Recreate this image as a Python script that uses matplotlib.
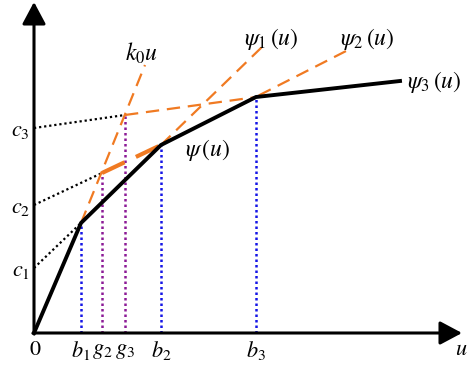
import matplotlib
matplotlib.use("Agg")
import matplotlib.pyplot as plt

plt.rcParams["mathtext.fontset"] = "stix"
plt.rcParams["font.family"] = "STIXGeneral"

# ── data (u along the horizontal axis, psi up the vertical axis) ──────
curve_u = [0, 47, 127, 222, 366]
curve_psi = [0, 110, 188, 236, 252]

b_vals = [47, 127, 222]          # b1, b2, b3
b_psi = [110, 188, 236]
g_vals = [68, 91]                # g2, g3
g_psi = [160, 218]
c_vals = [65, 128, 205]          # c1, c2, c3

k0_u, k0_psi = [47, 111], [110, 268]
psi1_u, psi1_psi = [127, 228], [188, 286]
psi2_thick_u, psi2_thick_psi = [68, 127], [160, 188]
psi2_u, psi2_psi = [206, 318], [228, 285]
psi3_u, psi3_psi = [91, 230], [218, 237]

b_labels = [r"$b_1$", r"$b_2$", r"$b_3$"]
g_labels = [r"$g_2$", r"$g_3$"]
c_labels = [r"$c_1$", r"$c_2$", r"$c_3$"]

ORANGE = "#f07a22"
BLUE = "#1515e6"
PURPLE = "#8c1a96"

fig = plt.figure(figsize=(4.74, 3.91), dpi=100)
ax = fig.add_axes([0, 0, 1, 1])
ax.set_xlim(-34, 440)
ax.set_ylim(-58, 333)
ax.axis("off")

# vertical guides
for b, p in zip(b_vals, b_psi):
    ax.plot([b, b], [0, p], color=BLUE, lw=1.8, ls=(0, (1, 1.2)), zorder=2)
for g, p in zip(g_vals, g_psi):
    ax.plot([g, g], [0, p], color=PURPLE, lw=1.8, ls=(0, (1, 1.2)), zorder=2)

# intercept lines from c_i
ends = [(b_vals[0], b_psi[0]), (g_vals[0], g_psi[0]), (g_vals[1], g_psi[1])]
for c, (u, p) in zip(c_vals, ends):
    ax.plot([0, u], [c, p], color="black", lw=1.6, ls=(0, (1, 1.3)), zorder=2)

# tangent lines
dash = (0, (6, 3.5))
ax.plot(k0_u, k0_psi, color=ORANGE, lw=1.6, ls=dash, zorder=3)
ax.plot(psi1_u, psi1_psi, color=ORANGE, lw=1.6, ls=dash, zorder=3)
ax.plot(psi2_u, psi2_psi, color=ORANGE, lw=1.6, ls=dash, zorder=3)
ax.plot(psi3_u, psi3_psi, color=ORANGE, lw=1.6, ls=dash, zorder=3)
ax.plot(psi2_thick_u, psi2_thick_psi, color=ORANGE, lw=3, ls=(0, (6, 3)),
        zorder=3)

# piecewise linear psi(u)
ax.plot(curve_u, curve_psi, color="black", lw=2.8, zorder=4,
        solid_joinstyle="miter")

# axes with arrows
arrow = dict(arrowstyle="-|>,head_length=0.45,head_width=0.24",
             lw=2.2, color="black", mutation_scale=30, shrinkA=0, shrinkB=0)
ax.annotate("", xy=(0, 331), xytext=(0, -1), arrowprops=arrow)
ax.annotate("", xy=(428, 0), xytext=(-1, 0), arrowprops=arrow)

# labels
fs = 16
ax.text(1, -17, "0", fontsize=fs, ha="center", va="center")
for b, lab in zip(b_vals, b_labels):
    ax.text(b, -18, lab, fontsize=fs, ha="center", va="center")
for g, lab in zip(g_vals, g_labels):
    ax.text(g, -18, lab, fontsize=fs, ha="center", va="center")
ax.text(427, -17, r"$u$", fontsize=fs, ha="center", va="center")
for c, lab in zip(c_vals, c_labels):
    ax.text(-4, c - 3, lab, fontsize=fs, ha="right", va="center")

fl = 17
ax.text(108, 280, r"$k_0u$", fontsize=fl, ha="center", va="center")
ax.text(237, 294, r"$\psi_1\,\left(u\right)$", fontsize=fl, ha="center", va="center")
ax.text(333, 294, r"$\psi_2\,\left(u\right)$", fontsize=fl, ha="center", va="center")
ax.text(400, 251, r"$\psi_3\,\left(u\right)$", fontsize=fl, ha="center", va="center")
ax.text(174, 183, r"$\psi\,\left(u\right)$", fontsize=fl, ha="center", va="center")

fig.savefig("out.png", dpi=100)
